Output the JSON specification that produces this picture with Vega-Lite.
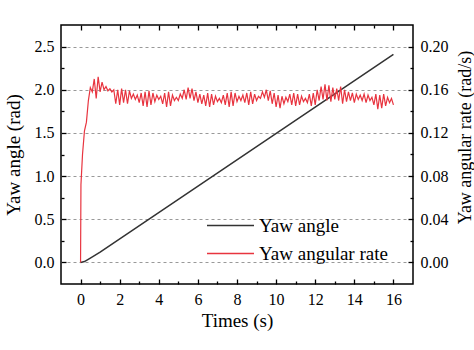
{
  "$schema": "https://vega.github.io/schema/vega-lite/v6.json",
  "autosize": {"type": "none"},
  "width": 352,
  "height": 259,
  "padding": {"left": 61, "top": 25, "right": 61, "bottom": 66},
  "background": "white",
  "config": {
    "view": {"stroke": "black", "strokeWidth": 1.5},
    "font": "Liberation Serif",
    "axis": {
      "domain": false,
      "tickColor": "black",
      "tickWidth": 1.3,
      "labelFont": "Liberation Serif",
      "labelFontSize": 16,
      "labelColor": "black",
      "titleFont": "Liberation Serif",
      "titleFontSize": 19,
      "titleFontWeight": "normal",
      "titleColor": "black",
      "gridColor": "#999999",
      "gridDash": [3, 3],
      "gridWidth": 1
    },
    "legend": {
      "orient": "none", "title": null,
      "symbolType": "stroke", "symbolSize": 2209, "symbolStrokeWidth": 1.3,
      "labelFont": "Liberation Serif", "labelFontSize": 19, "labelColor": "black",
      "labelOffset": 4
    }
  },
  "datasets": {
    "angle": [
      {"t": 0, "angle": 0},
      {"t": 0.2, "angle": 0.01},
      {"t": 0.5, "angle": 0.05},
      {"t": 1, "angle": 0.12},
      {"t": 16, "angle": 2.41}
    ],
    "rate": [
      {"t": 0, "rate": 0}, {"t": 0.02, "rate": 0.072}, {"t": 0.1, "rate": 0.1}, {"t": 0.2, "rate": 0.122},
      {"t": 0.3, "rate": 0.13}, {"t": 0.4, "rate": 0.15}, {"t": 0.5, "rate": 0.162}, {"t": 0.6, "rate": 0.158},
      {"t": 0.7, "rate": 0.17}, {"t": 0.8, "rate": 0.152}, {"t": 0.9, "rate": 0.172}, {"t": 1.0, "rate": 0.158},
      {"t": 1.1, "rate": 0.167}, {"t": 1.2, "rate": 0.16}, {"t": 1.3, "rate": 0.163}, {"t": 1.4, "rate": 0.159},
      {"t": 1.5, "rate": 0.161}, {"t": 1.6, "rate": 0.158}, {"t": 1.7, "rate": 0.16}, {"t": 1.8, "rate": 0.147},
      {"t": 1.9, "rate": 0.16}, {"t": 2.0, "rate": 0.146}, {"t": 2.1, "rate": 0.161}, {"t": 2.2, "rate": 0.148},
      {"t": 2.3, "rate": 0.16}, {"t": 2.4, "rate": 0.147}, {"t": 2.5, "rate": 0.159}, {"t": 2.6, "rate": 0.152},
      {"t": 2.7, "rate": 0.156}, {"t": 2.8, "rate": 0.151}, {"t": 2.9, "rate": 0.155}, {"t": 3.0, "rate": 0.148},
      {"t": 3.1, "rate": 0.157}, {"t": 3.2, "rate": 0.145}, {"t": 3.3, "rate": 0.158}, {"t": 3.4, "rate": 0.144},
      {"t": 3.5, "rate": 0.159}, {"t": 3.6, "rate": 0.146}, {"t": 3.7, "rate": 0.157}, {"t": 3.8, "rate": 0.149},
      {"t": 3.9, "rate": 0.155}, {"t": 4.0, "rate": 0.151}, {"t": 4.1, "rate": 0.154}, {"t": 4.2, "rate": 0.147},
      {"t": 4.3, "rate": 0.157}, {"t": 4.4, "rate": 0.144}, {"t": 4.5, "rate": 0.158}, {"t": 4.6, "rate": 0.145},
      {"t": 4.7, "rate": 0.155}, {"t": 4.8, "rate": 0.15}, {"t": 4.9, "rate": 0.153}, {"t": 5.0, "rate": 0.15},
      {"t": 5.1, "rate": 0.156}, {"t": 5.2, "rate": 0.152}, {"t": 5.3, "rate": 0.16}, {"t": 5.4, "rate": 0.151},
      {"t": 5.5, "rate": 0.162}, {"t": 5.6, "rate": 0.152}, {"t": 5.7, "rate": 0.161}, {"t": 5.8, "rate": 0.15},
      {"t": 5.9, "rate": 0.158}, {"t": 6.0, "rate": 0.148}, {"t": 6.1, "rate": 0.156}, {"t": 6.2, "rate": 0.147},
      {"t": 6.3, "rate": 0.155}, {"t": 6.4, "rate": 0.145}, {"t": 6.5, "rate": 0.157}, {"t": 6.6, "rate": 0.144},
      {"t": 6.7, "rate": 0.156}, {"t": 6.8, "rate": 0.146}, {"t": 6.9, "rate": 0.154}, {"t": 7.0, "rate": 0.149},
      {"t": 7.1, "rate": 0.152}, {"t": 7.2, "rate": 0.148}, {"t": 7.3, "rate": 0.155}, {"t": 7.4, "rate": 0.146},
      {"t": 7.5, "rate": 0.157}, {"t": 7.6, "rate": 0.144}, {"t": 7.7, "rate": 0.158}, {"t": 7.8, "rate": 0.145},
      {"t": 7.9, "rate": 0.157}, {"t": 8.0, "rate": 0.149}, {"t": 8.1, "rate": 0.154}, {"t": 8.2, "rate": 0.15},
      {"t": 8.3, "rate": 0.155}, {"t": 8.4, "rate": 0.148}, {"t": 8.5, "rate": 0.157}, {"t": 8.6, "rate": 0.146},
      {"t": 8.7, "rate": 0.158}, {"t": 8.8, "rate": 0.147}, {"t": 8.9, "rate": 0.156}, {"t": 9.0, "rate": 0.15},
      {"t": 9.1, "rate": 0.154}, {"t": 9.2, "rate": 0.152}, {"t": 9.3, "rate": 0.158}, {"t": 9.4, "rate": 0.153},
      {"t": 9.5, "rate": 0.16}, {"t": 9.6, "rate": 0.15}, {"t": 9.7, "rate": 0.159}, {"t": 9.8, "rate": 0.147},
      {"t": 9.9, "rate": 0.157}, {"t": 10.0, "rate": 0.144}, {"t": 10.1, "rate": 0.155}, {"t": 10.2, "rate": 0.143},
      {"t": 10.3, "rate": 0.154}, {"t": 10.4, "rate": 0.147}, {"t": 10.5, "rate": 0.153}, {"t": 10.6, "rate": 0.149},
      {"t": 10.7, "rate": 0.156}, {"t": 10.8, "rate": 0.146}, {"t": 10.9, "rate": 0.157}, {"t": 11.0, "rate": 0.145},
      {"t": 11.1, "rate": 0.156}, {"t": 11.2, "rate": 0.146}, {"t": 11.3, "rate": 0.154}, {"t": 11.4, "rate": 0.149},
      {"t": 11.5, "rate": 0.152}, {"t": 11.6, "rate": 0.148}, {"t": 11.7, "rate": 0.156}, {"t": 11.8, "rate": 0.145},
      {"t": 11.9, "rate": 0.157}, {"t": 12.0, "rate": 0.146}, {"t": 12.1, "rate": 0.16}, {"t": 12.2, "rate": 0.15},
      {"t": 12.3, "rate": 0.163}, {"t": 12.4, "rate": 0.151}, {"t": 12.5, "rate": 0.165}, {"t": 12.6, "rate": 0.15},
      {"t": 12.7, "rate": 0.164}, {"t": 12.8, "rate": 0.149}, {"t": 12.9, "rate": 0.162}, {"t": 13.0, "rate": 0.151},
      {"t": 13.1, "rate": 0.161}, {"t": 13.2, "rate": 0.15}, {"t": 13.3, "rate": 0.163}, {"t": 13.4, "rate": 0.147},
      {"t": 13.5, "rate": 0.16}, {"t": 13.6, "rate": 0.149}, {"t": 13.7, "rate": 0.158}, {"t": 13.8, "rate": 0.15},
      {"t": 13.9, "rate": 0.157}, {"t": 14.0, "rate": 0.148}, {"t": 14.1, "rate": 0.156}, {"t": 14.2, "rate": 0.151},
      {"t": 14.3, "rate": 0.155}, {"t": 14.4, "rate": 0.15}, {"t": 14.5, "rate": 0.156}, {"t": 14.6, "rate": 0.148},
      {"t": 14.7, "rate": 0.155}, {"t": 14.8, "rate": 0.15}, {"t": 14.9, "rate": 0.153}, {"t": 15.0, "rate": 0.146},
      {"t": 15.1, "rate": 0.156}, {"t": 15.2, "rate": 0.142}, {"t": 15.3, "rate": 0.155}, {"t": 15.4, "rate": 0.143},
      {"t": 15.5, "rate": 0.156}, {"t": 15.6, "rate": 0.145}, {"t": 15.7, "rate": 0.153}, {"t": 15.8, "rate": 0.148},
      {"t": 15.9, "rate": 0.152}, {"t": 16.0, "rate": 0.146}
    ]
  },
  "title": {
    "text": "Fig. 8.  The yaw angle and yaw angular rate of the robot in the steering motion",
    "orient": "bottom",
    "anchor": "start",
    "frame": "bounds",
    "font": "Liberation Serif",
    "fontSize": 16,
    "fontWeight": "normal",
    "color": "black",
    "baseline": "top",
    "offset": 19
  },
  "resolve": {
    "scale": {"x": "independent", "y": "independent"},
    "axis": {"x": "independent", "y": "independent"}
  },
  "layer": [
    {
      "data": {"name": "angle"},
      "mark": {"type": "line", "strokeWidth": 1.5},
      "encoding": {
        "x": {
          "field": "t", "type": "quantitative",
          "scale": {"domain": [-1, 17], "nice": false, "zero": false},
          "axis": {"orient": "bottom", "values": [0, 2, 4, 6, 8, 10, 12, 14, 16], "tickSize": -5, "labelPadding": 12, "labelFont": "Liberation Serif", "title": "Times (s)", "titlePadding": 4, "grid": false}
        },
        "y": {
          "field": "angle", "type": "quantitative",
          "scale": {"domain": [-0.25, 2.75], "nice": false, "zero": false},
          "axis": {"orient": "left", "values": [0, 0.5, 1, 1.5, 2, 2.5], "format": ".1f", "tickSize": -5, "labelPadding": 12, "labelFont": "Liberation Serif", "grid": true, "title": "Yaw angle (rad)", "titlePadding": 11}
        },
        "stroke": {
          "datum": "Yaw angle", "type": "nominal",
          "scale": {"domain": ["Yaw angle"], "range": ["#333333"]},
          "legend": {"legendX": 145, "legendY": 176}
        }
      }
    },
    {
      "data": {"name": "rate"},
      "mark": {"type": "line", "strokeWidth": 1.2},
      "encoding": {
        "x": {
          "field": "t", "type": "quantitative",
          "scale": {"domain": [-1, 17], "nice": false, "zero": false},
          "axis": {"orient": "top", "values": [0, 2, 4, 6, 8, 10, 12, 14, 16], "tickSize": -5, "labels": false, "title": null, "grid": false}
        },
        "y": {
          "field": "rate", "type": "quantitative",
          "scale": {"domain": [-0.02, 0.22], "nice": false, "zero": false},
          "axis": {"orient": "right", "values": [0, 0.04, 0.08, 0.12, 0.16, 0.2], "format": ".2f", "tickSize": -5, "labelPadding": 12, "labelFont": "Liberation Serif", "grid": false, "title": "Yaw angular rate (rad/s)", "titleFontSize": 18, "titleAngle": 270, "titlePadding": 26, "titleY": 112}
        },
        "color": {
          "datum": "Yaw angular rate", "type": "nominal",
          "scale": {"domain": ["Yaw angular rate"], "range": ["#e8343f"]},
          "legend": {"legendX": 145, "legendY": 204}
        }
      }
    },
    {
      "data": {"name": "angle"},
      "mark": {"type": "line", "opacity": 0},
      "encoding": {
        "x": {
          "field": "t", "type": "quantitative",
          "scale": {"domain": [-1, 17], "nice": false, "zero": false},
          "axis": {"orient": "bottom", "values": [1, 3, 5, 7, 9, 11, 13, 15], "tickSize": -3, "labels": false, "title": null, "grid": false}
        },
        "y": {
          "field": "angle", "type": "quantitative",
          "scale": {"domain": [-0.25, 2.75], "nice": false, "zero": false},
          "axis": {"orient": "left", "values": [0.25, 0.75, 1.25, 1.75, 2.25], "tickSize": -3, "labels": false, "title": null, "grid": false}
        }
      }
    },
    {
      "data": {"name": "rate"},
      "mark": {"type": "line", "opacity": 0},
      "encoding": {
        "x": {
          "field": "t", "type": "quantitative",
          "scale": {"domain": [-1, 17], "nice": false, "zero": false},
          "axis": {"orient": "top", "values": [1, 3, 5, 7, 9, 11, 13, 15], "tickSize": -3, "labels": false, "title": null, "grid": false}
        },
        "y": {
          "field": "rate", "type": "quantitative",
          "scale": {"domain": [-0.02, 0.22], "nice": false, "zero": false},
          "axis": {"orient": "right", "values": [0.02, 0.06, 0.1, 0.14, 0.18], "tickSize": -3, "labels": false, "title": null, "grid": false}
        }
      }
    }
  ]
}
